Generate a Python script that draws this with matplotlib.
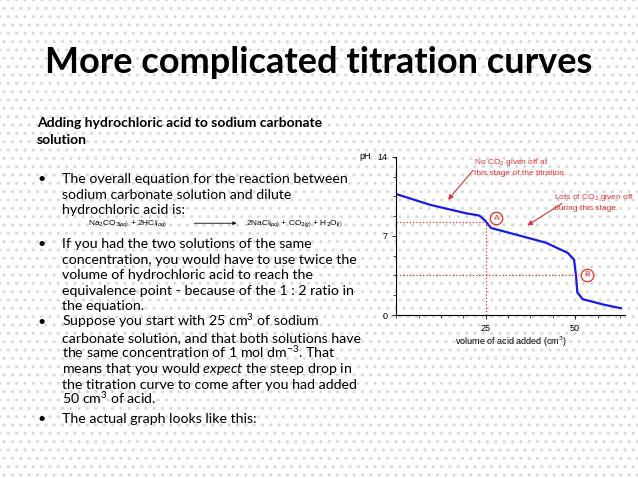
import matplotlib as mpl
mpl.use('Agg')
from matplotlib import pyplot as plt
from matplotlib.patches import Rectangle
import numpy as np

mpl.rcParams['font.family'] = ['Lato', 'DejaVu Sans']
mpl.rcParams['mathtext.fontset'] = 'custom'
mpl.rcParams['mathtext.rm'] = 'Lato'
mpl.rcParams['mathtext.it'] = 'Lato:italic'

volume = [0, 9.5, 19.5, 23.2, 24.7, 26.5, 34.8, 41.8, 47.9, 49.7, 50.3, 50.6, 52.1, 58.2, 62.8]
ph = [10.7, 9.75, 9.0, 8.8, 8.4, 7.7, 7.0, 6.4, 5.5, 4.9, 3.3, 2.0, 1.4, 0.9, 0.6]
point_a = (25, 8.25)
point_b = (50, 3.55)
xticks = [25, 50]
yticks = [0, 7, 14]

fig = plt.figure(figsize=(6.38, 4.78), dpi=100)
bg = fig.add_axes([0, 0, 1, 1])
bg.axis('off')
bg.add_patch(Rectangle((0, 0), 1, 1, facecolor='white', edgecolor='#d8d8d8',
                       hatch='..', linewidth=0, transform=bg.transAxes))

fig.text(0.5, 0.87, 'More complicated titration curves', ha='center', va='center',
         fontsize=26, fontweight='bold')
fig.text(0.058, 0.743, 'Adding hydrochloric acid to sodium carbonate', ha='left', va='center',
         fontsize=10, fontweight='bold')
fig.text(0.058, 0.707, 'solution', ha='left', va='center', fontsize=10, fontweight='bold')

step = 0.0325
bullets = [
    (0.628, ['The overall equation for the reaction between',
             'sodium carbonate solution and dilute',
             'hydrochloric acid is:']),
    (0.492, ['If you had the two solutions of the same',
             'concentration, you would have to use twice the',
             'volume of hydrochloric acid to reach the',
             'equivalence point - because of the 1 : 2 ratio in',
             'the equation.']),
    (0.328, [r'Suppose you start with 25 cm$^{3}$ of sodium',
             'carbonate solution, and that both solutions have',
             r'the same concentration of 1 mol dm$^{-3}$. That',
             r'means that you would $\it{expect}$ the steep drop in',
             'the titration curve to come after you had added',
             r'50 cm$^{3}$ of acid.']),
    (0.126, ['The actual graph looks like this:']),
]
off = 0.011
for y, lines in bullets:
    fig.text(0.058, y - off, '\u2022', ha='left', va='baseline', fontsize=10.2)
    for i, line in enumerate(lines):
        fig.text(0.097, y - i * step - off, line, ha='left', va='baseline', fontsize=10.2)

fig.text(0.138, 0.533, r'Na$_2$CO$_{3(aq)}$ + 2HCl$_{(aq)}$', ha='left', va='center',
         fontsize=6, family=['Liberation Sans'])
fig.text(0.385, 0.533, r'2NaCl$_{(aq)}$ + CO$_{2(g)}$ + H$_2$O$_{(l)}$', ha='left', va='center',
         fontsize=6, family=['Liberation Sans'])
bg.annotate('', xy=(0.375, 0.533), xytext=(0.300, 0.533), xycoords='figure fraction',
            arrowprops=dict(arrowstyle='-|>', lw=0.6, color='black', mutation_scale=5))

red = '#e03030'
ax = fig.add_axes([0.621, 0.341, 0.359, 0.331])
ax.patch.set_alpha(0)
ax.plot(volume, ph, color='#1a1ae6', lw=1.6)
ax.plot([0, point_a[0]], [point_a[1]] * 2, ls=':', color=red, lw=0.9)
ax.plot([point_a[0]] * 2, [0, point_a[1]], ls=':', color=red, lw=0.9)
ax.plot([0, point_b[0]], [point_b[1]] * 2, ls=':', color=red, lw=0.9)
for (px, py), lab, (dx, dy) in [(point_a, 'A', (3.0, 0.3)), (point_b, 'B', (3.3, 0))]:
    ax.plot([px + dx], [py + dy], marker='o', ms=9, mfc='none', mec=red, mew=0.9)
    ax.text(px + dx, py + dy, lab, color=red, fontsize=6, ha='center', va='center',
            family=['Liberation Sans'])

ax.set_xlim(0, 64)
ax.set_ylim(0, 14)
ax.set_xticks(xticks)
ax.set_yticks(yticks)
ax.set_yticks(np.arange(0, 14.1, 1.75), minor=True)
ax.set_xticks(np.arange(0, 64, 6.25), minor=True)
ax.spines['top'].set_visible(False)
ax.spines['right'].set_visible(False)
ax.tick_params(labelsize=6.5, length=3, width=0.6)
ax.tick_params(which='minor', length=2, width=0.5)
for lab in ax.get_xticklabels() + ax.get_yticklabels():
    lab.set_family(['Liberation Sans'])
ax.set_xlabel('volume of acid added (cm$^3$)', fontsize=6.5, labelpad=1, family=['Liberation Sans'])
ax.text(-0.11, 1.0, 'pH', transform=ax.transAxes, fontsize=6.5, ha='right', va='center',
        family=['Liberation Sans'])

ax.text(0.34, 1.0, 'No CO$_2$ given off at\nthis stage of the titration.', transform=ax.transAxes,
        color=red, fontsize=6, va='top', family=['Liberation Sans'], linespacing=1.5)
ax.annotate('', xy=(14, 10.0), xytext=(22, 13.0),
            arrowprops=dict(arrowstyle='-|>', color=red, lw=0.8, mutation_scale=7))
ax.text(0.69, 0.78, 'Lots of CO$_2$ given off\nduring this stage.', transform=ax.transAxes,
        color=red, fontsize=6, va='top', family=['Liberation Sans'], linespacing=1.5)
ax.annotate('', xy=(36, 7.8), xytext=(47, 10.0),
            arrowprops=dict(arrowstyle='-|>', color=red, lw=0.8, mutation_scale=7))

fig.savefig('out.png', dpi=100)
